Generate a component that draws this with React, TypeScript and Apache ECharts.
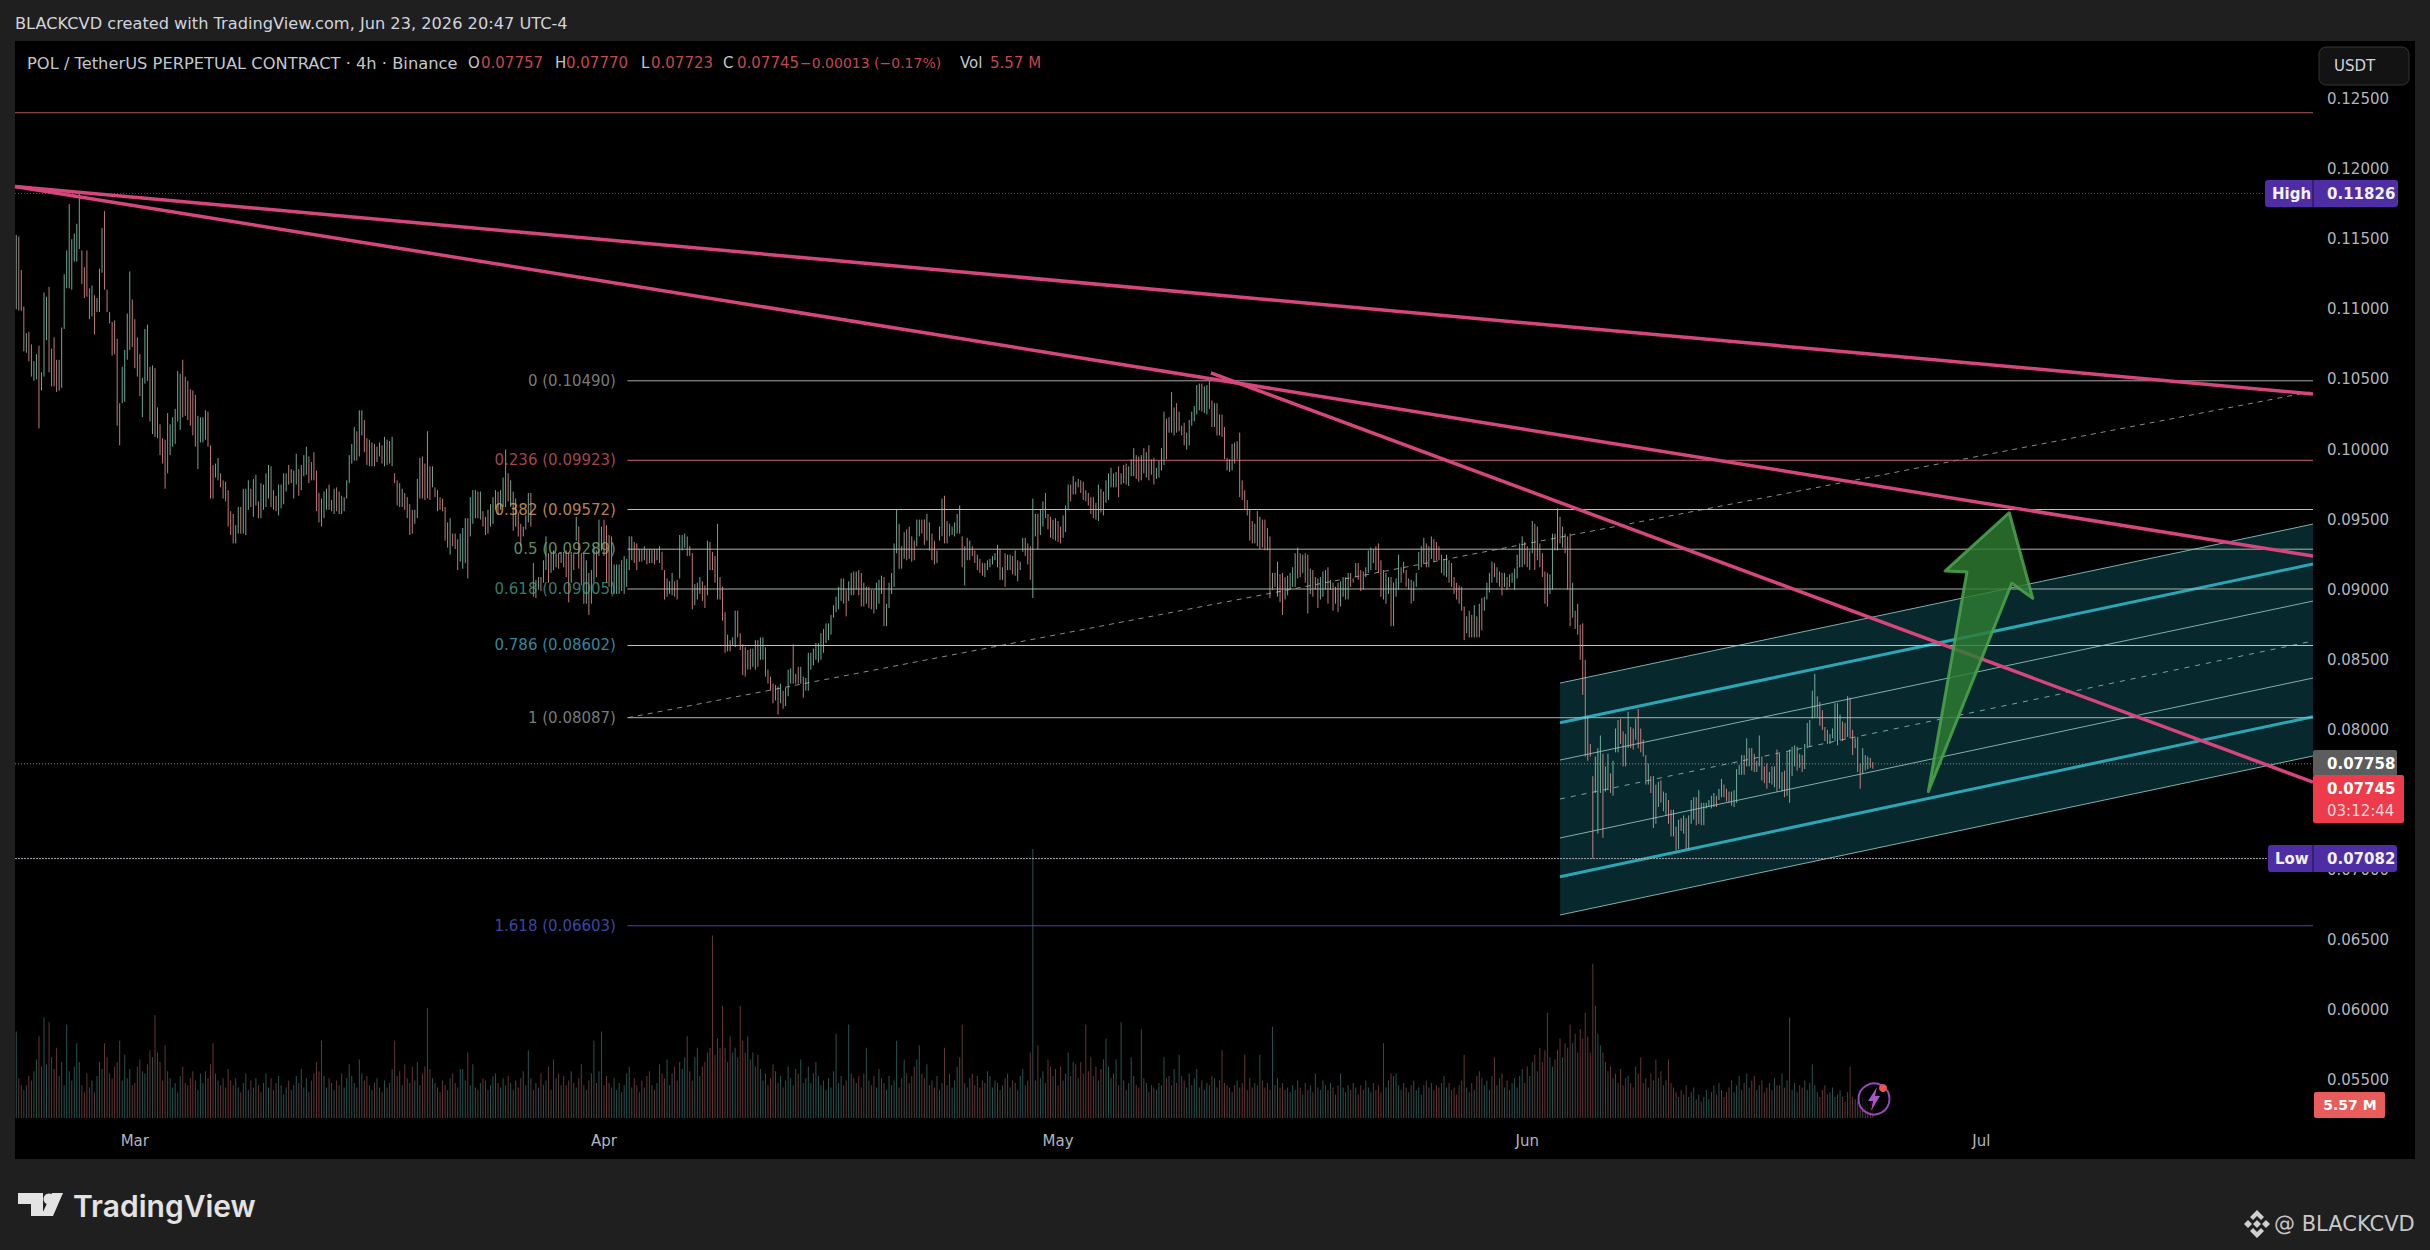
import React, { useEffect, useRef } from "react";
import * as echarts from "echarts";

// Each tuple: [high, low, close] in units of 0.0001 USDT.
const febBars = [
[1153,1100,1140],[1152,1099,1128],[1128,1099,1103],[1102,1070,1076],[1083,1069,1080],[1084,1063,1068],[1075,1052,1058],[1063,1049,1060],[1068,1050,1064],[1074,1015,1030],
[1055,1042,1050],[1112,1052,1098],[1109,1078,1104],[1116,1055,1066],[1072,1045,1058],[1080,1045,1052],[1064,1041,1048],[1064,1042,1060],[1087,1044,1084],[1125,1086,1120],
[1142,1115,1138],[1175,1115,1145],[1150,1114,1148],[1154,1134,1150],[1161,1134,1158],[1182.6,1143,1170],[1142,1118,1128],[1130,1108,1112],[1142,1109,1110],[1115,1093,1096],
[1117,1095,1105],[1110,1082,1095],[1108,1098,1099],[1129,1098,1125],[1158,1126,1150],[1170,1114,1118],[1114,1098,1100],[1098,1090,1092],[1091,1067,1070],[1092,1068,1069],
[1079,1017,1030],[1033,1003,1010],[1059,1033,1050],[1071,1034,1065],[1097,1064,1090],[1127,1071,1105],[1107,1073,1078]];

const marBars = [
[1093,1058,1062],[1080,1052,1056],[1068,1038,1042],[1051,1023,1048],[1086,1047,1070],[1089,1049,1080],[1059,1020,1030],[1060,1011,1050],[1058,1009,1015],[1030,1008,1012],
[1018,996,1000],[1008,990,994],[1007,972,990],[1026,983,985],[1018,996,1012],[1023,1002,1018],[1029,1004,1024],[1056,1020,1045],[1054,1014,1050],[1064,1023,1035],
[1052,1024,1030],[1049,1021,1027],[1043,1017,1023],[1042,1010,1018],[1039,1002,1008],[1024,986,1020],[1023,1005,1022],[1023,1005,1023],[1028,1007,1026],[1027,1002,1005],
[1003,965,972],[989,965,970],[990,980,985],[994,978,990],[983,973,977],[978,965,968],[977,963,966],[971,945,950],[956,939,944],[954,933,938],
[946,933,942],[959,940,955],[959,940,945],[972,940,965],[972,939,968],[978,957,975],[972,959,962],[979,952,972],[982,960,978],[963,951,955],
[976,951,958],[975,957,970],[983,959,978],[989,965,985],[988,959,965],[971,957,960],[967,956,958],[975,953,972],[975,958,973],[983,961,978],
[983,970,980],[989,975,977],[986,976,978],[985,965,982],[997,975,990],[986,967,972],[989,971,985],[996,981,992],[1002,982,998],[995,976,985],
[991,978,980],[998,978,979],[985,956,962],[969,948,952],[965,945,960],[970,951,965],[972,957,968],[975,957,962],[964,956,963],[972,954,968],
[973,956,960],[970,954,966],[967,954,958],[966,956,964],[978,965,975],[996,976,992],[1004,990,1000],[1016,992,1010],[1013,992,998],[1028,995,1022],
[1028,1010,1025],[1021,998,1002],[1008,989,992],[1007,988,990],[1005,988,1002],[1004,988,992],[1002,991,1000],[1005,995,997],[1003,990,996],[1009,988,1006],
[1007,989,993],[1006,990,998],[1009,988,1006],[983,976,978],[978,960,970],[976,959,965],[972,959,968],[969,957,960],[966,951,955],[961,939,943],
[957,940,941],[957,947,953],[979,951,974],[994,965,988],[995,965,972],[990,964,970],[1013,965,975],[988,964,970],[988,973,975],[973,966,968],
[971,956,960],[966,957,959],[965,956,957],[959,935,940],[948,930,938],[951,925,945],[940,931,935],[940,929,932],[936,914,918],[940,920,925],
[944,915,938],[951,919,945],[951,908,925],[966,938,960],[971,947,966],[971,951,968],[970,951,955],[970,950,966],[956,945,950],[952,939,942],
[957,940,941],[961,945,950],[966,947,960],[971,957,968],[970,954,958],[971,957,966],[980,959,975],[1000,959,980],[983,963,970],[978,959,972],
[970,942,950],[965,945,952],[955,938,950],[947,931,935],[945,938,940],[953,943,950],[969,948,965],[969,945,948],[919,895,900],[907,894,897],
[909,900,905],[909,899,901],[921,905,918],[938,914,932],[926,905,910],[926,912,920],[928,914,916],[926,916,922],[926,915,917],[927,919,924],
[927,916,918],[928,909,912],[926,891,895],[927,905,922],[926,914,916],[952,935,938],[945,915,920],[926,903,908],[926,890,895],[921,890,908],
[912,882,888],[914,890,908],[931,905,925],[928,909,915],[950,924,945],[945,928,940]];

const aprBars = [
[950,924,930],[946,905,910],[939,902,906],[938,897,900],[918,897,912],[918,897,914],[918,897,916],[921,899,917],[924,897,918],[922,902,920],
[938,914,934],[938,921,936],[934,919,925],[933,914,918],[929,920,926],[929,920,922],[931,921,928],[929,918,926],[929,919,921],[929,919,927],
[929,918,920],[929,921,927],[931,919,923],[927,914,917],[914,893,897],[908,895,899],[906,897,903],[912,896,908],[906,895,898],[907,893,896],
[939,908,934],[939,928,936],[940,930,937],[938,924,928],[931,924,926],[926,886,892],[904,889,898],[905,893,902],[909,897,906],[906,892,896],
[903,887,890],[935,896,930],[934,914,920],[927,914,916],[924,905,908],[947,893,900],[909,893,896],[902,878,882],[884,855,860],[868,856,865],
[864,856,862],[866,860,864],[885,859,880],[885,866,870],[869,857,860],[861,839,843],[859,838,841],[857,843,854],[858,843,846],[858,845,855],
[864,843,860],[864,845,850],[866,850,862],[866,850,864],[859,838,842],[843,833,836],[838,828,831],[833,819,822],[832,821,829],[831,811,815],
[833,819,830],[828,815,818],[830,817,826],[843,824,838],[844,833,841],[861,833,838],[840,833,839],[845,833,835],[845,833,842],[838,823,826],
[837,828,834],[855,828,850],[855,843,852],[858,846,854],[862,850,858],[862,848,860],[869,850,866],[872,855,868],[876,862,872],[876,864,874],
[882,868,878],[889,880,886],[895,884,892],[902,886,898],[908,892,904],[908,890,895],[900,881,885],[906,892,900],[912,896,908],[913,896,900],
[913,900,910],[914,896,900],[912,888,892],[905,888,890],[902,890,898],[902,887,889],[900,886,888],[900,883,885],[905,886,895],[907,890,902],
[910,897,907],[909,874,878],[890,874,886],[905,887,902],[912,897,909],[933,902,928],[957,926,950],[947,915,925],[931,915,918],[941,922,936],
[943,921,925],[945,922,940],[938,920,930],[935,921,925],[950,931,945],[950,938,947],[950,940,942],[950,932,936],[954,935,938],[948,928,932],
[940,921,925],[935,918,922],[928,919,926],[945,935,942],[965,938,955],[967,933,938],[949,933,945],[947,938,940],[945,939,943],[948,938,945],
[954,940,950],[960,940,955],[938,916,920],[931,903,925],[937,921,924],[935,921,930],[931,924,926],[928,919,921],[925,914,916],[922,912,914],
[919,910,912],[919,909,916],[921,914,919],[922,916,920],[924,918,922],[926,921,925],[932,916,928],[929,907,910],[916,907,914],[926,902,906],
[925,914,922],[925,914,923],[924,911,914],[928,910,916],[921,906,908],[920,914,918],[937,927,934],[937,924,928],[933,918,921],[931,907,910],
[965,894,950],[954,938,952],[954,929,950],[957,939,955],[963,945,960],[969,951,953],[954,943,945],[952,937,940],[950,936,942],[951,935,938]];

const mayBars = [
[949,934,937],[945,933,935],[953,937,950],[960,941,957],[975,957,972],[975,963,968],[981,968,978],[977,968,972],[979,973,977],[978,969,972],
[977,964,967],[971,963,965],[969,960,962],[966,954,957],[966,951,954],[962,950,952],[975,949,970],[972,955,960],[970,953,958],[978,962,975],
[983,964,980],[987,973,984],[983,973,976],[984,973,981],[988,966,970],[983,975,980],[989,976,986],[990,975,978],[988,974,984],[993,981,990],
[1001,981,996],[996,979,984],[995,977,980],[996,978,992],[1001,983,986],[998,980,990],[1003,978,982],[993,982,990],[994,975,978],[987,979,985],
[992,980,988],[1001,985,998],[1027,989,1020],[1022,993,1000],[1023,1012,1020],[1041,1012,1016],[1030,1010,1018],[1033,1012,1014],[1027,1013,1015],[1017,1010,1012],
[1019,1003,1005],[1012,1000,1008],[1021,1003,1018],[1027,1017,1024],[1031,1020,1028],[1046,1025,1042],[1047,1028,1044],[1047,1027,1032],[1045,1026,1040],[1046,1025,1044],
[1049,1029,1034],[1035,1016,1020],[1033,1016,1028],[1033,1010,1014],[1025,1010,1012],[1025,1009,1010],[1016,993,996],[994,985,987],[993,984,990],[1004,985,1000],
[1005,990,998],[1006,993,1003],[1012,966,975],[978,964,967],[971,957,960],[964,953,955],[957,935,938],[949,933,936],[947,933,945],[956,931,934],
[952,929,948],[950,930,936],[950,928,932],[944,928,930],[938,894,900],[912,900,910],[912,902,909],[920,895,915],[911,891,896],[912,882,888],
[909,893,906],[910,896,902],[912,900,908],[916,902,913],[926,902,923],[930,908,925],[926,909,915],[925,912,922],[926,905,918],[925,883,890],
[915,897,905],[914,895,900],[909,900,906],[908,887,892],[909,893,905],[913,895,908],[914,900,912],[916,890,896],[907,900,904],[905,885,890],
[902,890,898],[905,884,890],[906,888,898],[909,895,903],[909,893,905],[912,893,909],[912,902,904],[908,905,907],[919,909,916],[919,907,910],
[914,899,902],[913,900,910],[916,909,914],[928,912,925],[930,914,926],[929,919,922],[931,914,916],[933,912,914],[921,895,900],[914,893,896],
[912,890,902],[909,897,905],[909,874,880],[905,874,900],[908,895,904],[925,900,920],[916,905,908],[920,912,916],[914,902,905],[908,900,906],
[907,890,895],[906,892,900],[912,902,908],[927,914,924],[931,916,928],[937,919,933],[933,916,920],[931,916,928],[938,922,934],[936,920,930],
[934,921,924],[931,921,923],[925,912,914],[922,910,918],[925,909,920],[921,905,908],[919,902,905],[909,897,899],[905,893,895],[903,890,892],
[902,885,888],[888,864,866],[881,869,875],[885,866,868],[882,866,867],[889,866,884],[881,866,870],[890,866,886],[894,871,875],[895,885,893],
[905,893,902],[912,898,908],[920,905,916],[919,909,912],[916,905,913],[913,902,905],[912,896,900],[912,902,908],[909,900,904],[911,902,906],
[912,905,910],[915,900,913],[925,908,920],[933,916,928],[938,916,930],[934,918,925]];

const junBars = [
[931,916,920],[928,914,924],[949,926,944],[947,914,920],[945,921,940],[933,916,920],[926,909,912],[913,890,895],[912,888,890],[911,897,905],
[940,900,935],[940,928,932],[958,928,950],[952,933,936],[945,930,938],[940,926,930],[938,900,905],[940,874,880],[905,880,885],[885,872,875],
[890,868,872],[875,850,855],[876,825,830],[850,781,790],[810,778,785],[790,781,783],[767,708.2,755],[781,755,772],[787,726,778],[796,755,785],
[783,723,770],[774,756,760],[783,757,775],[769,755,762],[778,753,772],[801,784,796],[807,784,800],[808,790,795],[799,774,780],[797,774,778],
[813,787,805],[802,787,798],[801,786,790],[808,793,802],[815,787,800],[801,784,790],[793,781,783],[782,761,765],[776,761,770],[767,755,758],
[767,730,762],[761,733,745],[763,745,758],[764,748,752],[756,742,745],[755,739,750],[750,733,742],[743,724,728],[743,724,738],[731,714,718],
[736,715,732],[737,728,730],[739,726,735],[737,715,720],[739,715,735],[750,733,745],[752,736,748],[752,732,738],[757,733,750],[748,732,736],
[748,732,744],[748,744,746],[750,745,748],[753,744,751],[755,745,752],[753,745,748],[758,750,755],[765,752,762],[761,752,755],[758,749,752],
[756,748,750],[756,746,748],[757,745,755],[772,748,768],[775,768,772],[782,768,778],[782,768,772],[794,774,790],[787,774,778],[787,771,774],
[783,770,772],[778,770,776],[796,774,790],[781,764,768],[774,762,765],[776,758,760],[770,762,768],[774,761,764],[774,759,770],[786,756,760],
[783,758,759],[770,756,765],[771,752,756],[784,753,780],[786,748,755],[788,767,784],[789,774,786],[788,771,776],[783,773,775],[782,770,772],
[790,772,786],[805,787,800],[807,788,803],[828,808,824],[840,809,830],[824,809,812],[820,803,806],[814,800,802],[802,792,795],[800,790,792],
[797,790,795],[801,794,798],[819,792,812],[819,789,795],[811,793,806],[806,792,795],[805,793,794],[824,795,815],[823,794,798],[800,782,785],
[794,787,791],[795,770,772],[776,758,762],[787,769,782],[782,771,775],[781,772,778],[780,773,775.7],[777,772.3,774.5]];

// Volume in millions, one list per month, same order as the bars.
const febVol = [37,17,14,12,14,18,16,20,25,35,22,43,23,41,26,21,30,18,24,14,40,20,16,22,32,24,14,11,19,13,16,11,18,24,21,32,26,19,17,22,24,33,16,27,17,21,14];
const marVol = [
15,22,25,20,19,23,29,26,44,28,24,16,31,20,17,13,15,11,18,22,15,14,17,20,16,12,19,15,20,17,23,32,19,16,14,17,13,21,16,14,
17,13,11,15,19,12,16,13,17,14,11,15,19,13,17,12,15,18,14,10,13,16,12,14,18,15,21,13,17,11,16,19,24,20,33,18,13,17,15,12,
16,14,19,13,17,23,18,15,13,25,19,16,18,14,12,15,17,13,11,16,13,15,21,33,18,20,14,23,17,15,22,16,24,14,19,22,47,21,17,15,
13,11,16,14,12,17,19,15,13,21,21,16,28,14,23,13,12,15,17,16,12,14,18,19,15,13,17,14,18,15,12,16,13,17,20,14,29,17,12,15,
13,19,14,16,22,12,25,17,19,14,18,14,16,20,15,13,17,23,14,12,16,19,33,15,20,37];
const aprVol = [
14,18,15,13,17,12,15,11,14,19,22,13,17,14,11,16,13,18,20,14,12,15,23,19,17,25,14,19,22,16,24,21,26,35,20,16,26,30,18,22,
24,28,30,78,27,34,30,48,30,24,35,28,30,26,48,33,28,35,25,28,22,27,21,16,19,14,17,23,20,15,18,13,16,22,17,14,21,19,25,15,
17,22,15,19,24,18,14,16,12,17,13,20,36,15,18,14,16,40,19,17,15,18,13,19,30,16,14,18,13,21,17,15,12,18,14,16,33,13,17,25,
19,15,18,22,25,31,19,17,23,14,16,13,18,12,15,30,14,19,13,16,22,26,40,15,13,17,19,14,18,13,16,15,20,18,13,16,15,12,14,17,
19,13,16,15,12,18,21,14,16,28,115,16,31,17,20,15,25,22,18,21];
const mayVol = [
14,22,16,19,28,18,24,23,17,24,19,40,20,26,18,22,16,21,25,34,22,17,19,25,14,41,16,12,15,26,18,14,13,38,17,15,11,14,13,12,
15,14,26,17,18,14,21,15,27,18,16,13,19,14,17,21,13,16,12,15,14,18,17,13,16,29,15,14,13,11,14,16,13,15,27,12,17,13,15,14,
27,16,13,15,12,39,14,17,13,15,12,13,11,14,12,16,13,10,15,12,14,11,19,13,12,16,14,12,15,13,10,14,19,13,11,14,12,15,13,10,
14,12,16,13,11,15,12,14,11,32,13,16,19,18,19,14,12,15,13,11,14,16,12,13,10,14,16,13,15,12,14,13,15,18,13,15,12,13,10,14,
16,27,13,11,15,12,18,20,17,14,16,12,18,26,14,17,19,13,16,12,15,17,13,18,21,15];
const junVol = [
22,18,24,27,20,30,24,29,45,26,22,25,29,34,26,32,30,40,32,36,28,38,34,45,35,28,66,48,36,31,28,24,20,22,17,19,15,21,14,17,
18,15,13,22,19,26,15,17,13,19,16,25,17,20,14,16,25,15,13,11,9,12,10,14,9,11,13,8,10,7,9,12,8,11,14,10,15,12,9,11,
13,16,11,14,18,12,15,19,13,16,18,12,14,16,11,13,15,12,17,14,14,19,13,16,43,12,15,11,14,13,16,12,15,23,14,11,9,12,14,10,
11,13,9,10,12,9,7,11,22,9,8,7,6,9,7,6,6,5.57];

const monthPrices = [febBars, marBars, aprBars, mayBars, junBars];
const monthVolumes = [febVol, marVol, aprVol, mayVol, junVol];
const monthStarts = [0, 47, 233, 413, 599];
const totalBars = 737;
const totalSlots = 911;
const monthLabels: Record<number, string> = { 47: "Mar", 233: "Apr", 413: "May", 599: "Jun", 779: "Jul" };

const priceTicksMin = 0.05;
const priceTicksMax = 0.13;
const priceTickStep = 0.005;

const fibRatios = ["0", "0.236", "0.382", "0.5", "0.618", "0.786", "1", "1.618"];
const fibPrices = [0.1049, 0.09923, 0.09572, 0.09289, 0.09005, 0.08602, 0.08087, 0.06603];
const fibStartBar = 242.3;
const lastSlot = 910.5;
const firstSlot = -0.5;

const resistanceLines = [
  [[firstSlot, 0.11876], [lastSlot, 0.10396]],
  [[firstSlot, 0.11876], [lastSlot, 0.0924]],
  [[473.6, 0.10546], [lastSlot, 0.07628]],
];
const fibDiagonal = [[242.5, 0.08087], [909.3, 0.1041]];
const topLevel = 0.12402;
const highLevel = 0.11826;
const lowLevel = 0.07082;
const lastLevel = 0.07758;

const channelStart = 612;
const channelOuterTop = [0.08334, 0.09468];
const channelThickTop = [0.08051, 0.09183];
const channelInnerTop = [0.07785, 0.08919];
const channelMiddle = [0.07507, 0.08634];
const channelInnerBottom = [0.07229, 0.0837];
const channelThickBottom = [0.06953, 0.08094];
const channelOuterBottom = [0.0668, 0.07814];

const arrowPoints = [
  [758, 0.07559], [773.3, 0.09126], [764.6, 0.09133], [790.1, 0.09549], [799.4, 0.08938], [791.1, 0.09046],
];

const SANS = "DejaVu Sans";
const TICK = "#b2b5be";
const UP = "#8fd0bc";
const DOWN = "#f09a9a";
const VOL_UP = "#2b5350";
const VOL_DOWN = "#633737";
const PINK = "#d4467c";
const TEAL = "#2aa7b6";
const THIN_TEAL = "#7ab2b0";
const PURPLE = "#4f2ea5";
const RED = "#c0484f";
const fibTextColors = ["#9a9a9a", "#cc5a62", "#e0a860", "#7fae78", "#4a9a85", "#45a8c4", "#9a9a9a", "#4a5ad0"];
const fibLineColors = ["#a8a8a8", "#c9686e", "#e0b88e", "#a3b8a8", "#a3b8a8", "#9fcfdf", "#b0b0b0", "#4a45b5"];

function buildOption() {
  const scale = 10000;
  let prevClose: number | null = null;
  const candles: any[] = new Array(totalBars).fill(0).map(() => ["-", "-", "-", "-"]);
  const volumes: any[] = new Array(totalBars).fill(0);
  monthPrices.forEach((list, m) => {
    const end = m + 1 < monthStarts.length ? monthStarts[m + 1] : totalBars;
    list.forEach((b, i) => {
      const idx = monthStarts[m] + i;
      if (idx >= end) return;
      const [h, l, c] = b;
      const raw: number = prevClose == null ? c : prevClose;
      const o = Math.min(h, Math.max(l, raw));
      candles[idx] = [o / scale, c / scale, l / scale, h / scale];
      const v = monthVolumes[m][i];
      if (v != null) volumes[idx] = { value: v, itemStyle: { color: c >= o ? VOL_UP : VOL_DOWN } };
      prevClose = c;
    });
  });
  const categories: string[] = [];
  for (let i = 0; i < totalSlots; i++) categories.push(monthLabels[i] || String(i));

  const line = (name: string, data: number[][], color: string, width: number, type: any, z: number) => ({
    name,
    type: "line",
    xAxisIndex: 2,
    yAxisIndex: 0,
    data,
    symbol: "none",
    silent: true,
    animation: false,
    z,
    lineStyle: { color, width, type },
  });
  const channelLine = (name: string, ends: number[], color: string, width: number, type: any) =>
    line(name, [[channelStart, ends[0]], [lastSlot, ends[1]]], color, width, type, 2);

  const onePolygon = (name: string, points: number[][], style: any, z: number) => ({
    name,
    type: "custom",
    xAxisIndex: 2,
    yAxisIndex: 0,
    silent: true,
    z,
    clip: true,
    data: [points[0]],
    renderItem: (_: any, api: any) => ({
      type: "polygon",
      shape: { points: points.map((p) => api.coord(p)) },
      style,
    }),
  });

  const series: any[] = [
    onePolygon(
      "channel fill",
      [
        [channelStart, channelOuterTop[0]],
        [lastSlot, channelOuterTop[1]],
        [lastSlot, channelOuterBottom[1]],
        [channelStart, channelOuterBottom[0]],
      ],
      { fill: "#07282c" },
      1
    ),
    channelLine("outer top", channelOuterTop, THIN_TEAL, 1, "solid"),
    channelLine("inner top", channelInnerTop, THIN_TEAL, 1, "solid"),
    channelLine("middle", channelMiddle, "#6fa8a6", 1, [5, 6]),
    channelLine("inner bottom", channelInnerBottom, THIN_TEAL, 1, "solid"),
    channelLine("outer bottom", channelOuterBottom, THIN_TEAL, 1, "solid"),
    channelLine("thick top", channelThickTop, TEAL, 3, "solid"),
    channelLine("thick bottom", channelThickBottom, TEAL, 3, "solid"),
    line("top level", [[firstSlot, topLevel], [lastSlot, topLevel]], "#a85a5c", 1, "solid", 2),
    line("high", [[firstSlot, highLevel], [lastSlot, highLevel]], "#4a4a55", 1, [1, 2], 2),
    line("low", [[firstSlot, lowLevel], [lastSlot, lowLevel]], "#a9a9b5", 1, [2, 1], 2),
    line("last", [[firstSlot, lastLevel], [lastSlot, lastLevel]], "#8a8a8a", 1, [1, 2], 2),
    line("fib diagonal", fibDiagonal, "#8a8a8a", 1, [5, 5], 2),
    ...fibPrices.map((p, i) =>
      line("fib " + fibRatios[i], [[fibStartBar, p], [lastSlot, p]], fibLineColors[i], 1, "solid", 2)
    ),
    {
      name: "POL",
      type: "candlestick",
      xAxisIndex: 0,
      yAxisIndex: 0,
      data: candles,
      barWidth: 0.1,
      silent: true,
      z: 3,
      itemStyle: {
        color: UP,
        color0: DOWN,
        borderColor: UP,
        borderColor0: DOWN,
        borderWidth: 0.8,
      },
    },
    {
      name: "Vol",
      type: "bar",
      xAxisIndex: 1,
      yAxisIndex: 1,
      data: volumes,
      barWidth: 1,
      silent: true,
      z: 2,
    },
    ...resistanceLines.map((d, i) => line("trend " + i, d, PINK, 3.5, "solid", 4)),
    {
      name: "fib labels",
      type: "scatter",
      xAxisIndex: 2,
      yAxisIndex: 0,
      symbolSize: 1,
      silent: true,
      z: 5,
      itemStyle: { color: "transparent" },
      data: fibPrices.map((p, i) => ({
        value: [fibStartBar, p],
        label: {
          show: true,
          position: "left",
          distance: 11,
          formatter: `${fibRatios[i]} (${p.toFixed(5)})`,
          color: fibTextColors[i],
          fontFamily: SANS,
          fontSize: 15,
        },
      })),
    },
    onePolygon(
      "arrow",
      arrowPoints,
      { fill: "rgba(46,125,50,0.82)", stroke: "rgba(76,165,80,0.85)", lineWidth: 3, lineJoin: "round" },
      6
    ),
  ];

  const t = (text: string, x: number, y: number, fill: string, fontSize: number, extra: any = {}) => ({
    type: "text",
    z: 100,
    silent: true,
    style: {
      text,
      x,
      y,
      fill,
      fontSize,
      fontFamily: SANS,
      textAlign: "left",
      textVerticalAlign: "middle",
      ...extra,
    },
  });
  const box = (x: number, y: number, w: number, h: number, fill: string, r = 3, extra: any = {}) => ({
    type: "rect",
    z: 99,
    silent: true,
    shape: { x, y, width: w, height: h, r },
    style: { fill, ...extra },
  });

  const graphic: any[] = [
    { type: "rect", z: -5, silent: true, shape: { x: 15, y: 41, width: 2400, height: 1118 }, style: { fill: "#000000" } },
    t("BLACKCVD created with TradingView.com, Jun 23, 2026 20:47 UTC-4", 15, 23, "#d1d4dc", 16.2),
    t("POL / TetherUS PERPETUAL CONTRACT · 4h · Binance", 27, 63, "#c3c6ce", 16.3),
    t("O", 468, 63, "#c3c6ce", 15),
    t("0.07757", 481, 63, RED, 15),
    t("H", 555, 63, "#c3c6ce", 15),
    t("0.07770", 566, 63, RED, 15),
    t("L", 641, 63, "#c3c6ce", 15),
    t("0.07723", 651, 63, RED, 15),
    t("C", 723, 63, "#c3c6ce", 15),
    t("0.07745", 737, 63, RED, 15),
    t("−0.00013 (−0.17%)", 800, 63, RED, 14),
    t("Vol", 960, 63, "#c3c6ce", 15),
    t("5.57 M", 990, 63, RED, 15),
    box(2319, 47, 90, 38, "#131313", 7, { stroke: "#343434", lineWidth: 1 }),
    t("USDT", 2334, 66, "#d1d4dc", 15),
    box(2265, 180, 133, 27, PURPLE),
    { type: "line", z: 100, silent: true, shape: { x1: 2313, y1: 180, x2: 2313, y2: 207 }, style: { stroke: "#1a1040", lineWidth: 1 } },
    t("High", 2272, 193.5, "#f3f1fb", 15, { fontWeight: "bold" }),
    t("0.11826", 2327, 193.5, "#f3f1fb", 15, { fontWeight: "bold" }),
    box(2268, 845, 129, 27, PURPLE),
    { type: "line", z: 100, silent: true, shape: { x1: 2313, y1: 845, x2: 2313, y2: 872 }, style: { stroke: "#1a1040", lineWidth: 1 } },
    t("Low", 2275, 858.5, "#f3f1fb", 15, { fontWeight: "bold" }),
    t("0.07082", 2327, 858.5, "#f3f1fb", 15, { fontWeight: "bold" }),
    box(2313, 750, 84, 26, "#5d5d5d", 2),
    t("0.07758", 2327, 763.5, "#ffffff", 15, { fontWeight: "bold" }),
    box(2313, 775, 91, 48, "#ee3b4b", 2),
    t("0.07745", 2327, 789, "#ffffff", 15, { fontWeight: "bold" }),
    t("03:12:44", 2327, 811, "#f8d5d8", 15),
    box(2314, 1092, 71, 26, "#e85c5c", 2),
    t("5.57 M", 2350, 1105, "#ffffff", 14, { textAlign: "center", fontWeight: "bold" }),
    // bolt badge
    { type: "circle", z: 100, silent: true, shape: { cx: 1874, cy: 1099, r: 15.5 }, style: { fill: "rgba(0,0,0,0.55)", stroke: "#9a45b8", lineWidth: 2 } },
    { type: "polygon", z: 100, silent: true, shape: { points: [[1877, 1087], [1868, 1101], [1873, 1101], [1871, 1111], [1880, 1096], [1875, 1096]] }, style: { fill: "#a855c8" } },
    { type: "circle", z: 101, silent: true, shape: { cx: 1883, cy: 1088, r: 4 }, style: { fill: "#ef5350" } },
    // TradingView mark
    { type: "polygon", z: 100, silent: true, shape: { points: [[18, 1193], [43, 1193], [43, 1216], [31, 1216], [31, 1204], [18, 1204]] }, style: { fill: "#e3e3e3" } },
    { type: "circle", z: 100, silent: true, shape: { cx: 49, cy: 1199, r: 5.5 }, style: { fill: "#e3e3e3" } },
    { type: "polygon", z: 100, silent: true, shape: { points: [[52, 1193], [63, 1193], [53, 1216], [41, 1216]] }, style: { fill: "#e3e3e3" } },
    t("TradingView", 73, 1206, "#e3e3e3", 30, { fontFamily: "Inter", fontWeight: 600 }),
    // Binance mark
    { type: "polygon", z: 100, silent: true, shape: { points: [[2257, 1210], [2264, 1217], [2261, 1220], [2257, 1216], [2253, 1220], [2250, 1217]] }, style: { fill: "#d0d0d0" } },
    { type: "polygon", z: 100, silent: true, shape: { points: [[2257, 1238], [2264, 1231], [2261, 1228], [2257, 1232], [2253, 1228], [2250, 1231]] }, style: { fill: "#d0d0d0" } },
    { type: "polygon", z: 100, silent: true, shape: { points: [[2257, 1220], [2261, 1224], [2257, 1228], [2253, 1224]] }, style: { fill: "#d0d0d0" } },
    { type: "polygon", z: 100, silent: true, shape: { points: [[2248, 1220], [2252, 1224], [2248, 1228], [2244, 1224]] }, style: { fill: "#d0d0d0" } },
    { type: "polygon", z: 100, silent: true, shape: { points: [[2266, 1220], [2270, 1224], [2266, 1228], [2262, 1224]] }, style: { fill: "#d0d0d0" } },
    t("@ BLACKCVD", 2274, 1224, "#c8c8c8", 21),
  ];

  return {
    animation: false,
    backgroundColor: "#1f1f1f",
    grid: [
      { left: 15, width: 2298, top: 28.9, height: 1121.6 },
      { left: 15, width: 2298, top: 800, height: 318 },
    ],
    xAxis: [
      { type: "category", gridIndex: 0, data: categories, show: false },
      {
        type: "category",
        gridIndex: 1,
        data: categories,
        axisLine: { show: false },
        axisTick: { show: false },
        axisLabel: {
          color: TICK,
          fontFamily: SANS,
          fontSize: 15,
          margin: 15,
          hideOverlap: false,
          interval: (i: number) => monthLabels[i] != null,
        },
      },
      { type: "value", gridIndex: 0, min: firstSlot, max: lastSlot, show: false },
    ],
    yAxis: [
      {
        type: "value",
        gridIndex: 0,
        position: "right",
        min: priceTicksMin,
        max: priceTicksMax,
        interval: priceTickStep,
        axisLine: { show: false },
        axisTick: { show: false },
        splitLine: { show: false },
        axisLabel: {
          color: TICK,
          fontFamily: SANS,
          fontSize: 15,
          margin: 14,
          showMinLabel: false,
          showMaxLabel: false,
          formatter: (v: number) =>
            Math.abs(v - priceTicksMin) < 1e-6 || Math.abs(v - priceTicksMax) < 1e-6 || Math.abs(v - 0.075) < 1e-6
              ? ""
              : v.toFixed(5),
        },
      },
      { type: "value", gridIndex: 1, min: 0, max: 136, show: false },
    ],
    series,
    graphic,
  };
}

export default function App() {
  const ref = useRef<HTMLDivElement>(null);
  useEffect(() => {
    document.body.style.margin = "0";
    const chart = echarts.init(ref.current!, undefined, { renderer: "svg" });
    chart.setOption(buildOption() as any);
    return () => chart.dispose();
  }, []);
  return <div ref={ref} style={{ width: 2430, height: 1250 }} />;
}
